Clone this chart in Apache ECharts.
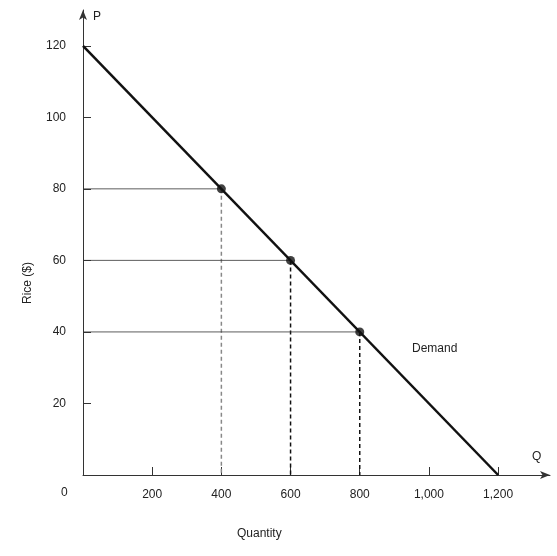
<!DOCTYPE html>
<html><head><meta charset="utf-8">
<script src="https://cdn.jsdelivr.net/npm/echarts@6/dist/echarts.min.js"></script>
<style>html,body{margin:0;background:#fff}#c{width:557px;height:556px}</style>
</head><body><div id="c"></div>
<script>
var demandLine = [[0, 120], [1200, 0]];
var points = [[400, 80], [600, 60], [800, 40]];
var dashColors = ['#888', '#111', '#111'];
var xTicks = [200, 400, 600, 800, 1000, 1200];
var yTicks = [20, 40, 60, 80, 100, 120];

var font = 'Liberation Sans, Arial, sans-serif';
var series = [];
points.forEach(function (p, i) {
    series.push({type: 'line', data: [[0, p[1]], p], symbol: 'none', silent: true,
        lineStyle: {color: '#333', width: 0.8}});
    series.push({type: 'line', data: [p, [p[0], 0]], symbol: 'none', silent: true,
        lineStyle: {color: dashColors[i], width: 1.5, type: [4, 3]}});
});
series.push({type: 'line', data: demandLine, symbol: 'none', lineStyle: {color: '#111', width: 2.5}, z: 5});
series.push({type: 'scatter', data: points, symbolSize: 9, itemStyle: {color: '#111'}, z: 6});

var chart = echarts.init(document.getElementById('c'));
chart.setOption({
    animation: false,
    grid: {left: 83, right: 7, top: 10, bottom: 81},
    xAxis: {type: 'value', min: 0, max: 1350, interval: 200,
        axisLine: {lineStyle: {color: '#333'}, symbol: ['none', 'arrow'], symbolSize: [6, 10]},
        axisTick: {inside: true, length: 8, lineStyle: {color: '#333'}, customValues: xTicks},
        axisLabel: {margin: 14, color: '#222', fontFamily: font, fontSize: 12, customValues: xTicks,
            formatter: function (v) { return v.toLocaleString('en-US'); }},
        splitLine: {show: false}},
    yAxis: {type: 'value', min: 0, max: 130, interval: 20,
        axisLine: {show: true, lineStyle: {color: '#333'}, symbol: ['none', 'arrow'], symbolSize: [6, 10]},
        axisTick: {show: true, inside: true, length: 8, lineStyle: {color: '#333'}, customValues: yTicks},
        axisLabel: {margin: 17, color: '#222', fontFamily: font, fontSize: 12, customValues: yTicks},
        splitLine: {show: false}},
    graphic: [
        {type: 'text', left: 61, top: 487, style: {text: '0', font: '12px ' + font, fill: '#222'}},
        {type: 'text', left: 93, top: 11, style: {text: 'P', font: '12px ' + font, fill: '#222'}},
        {type: 'text', left: 532, top: 451, style: {text: 'Q', font: '12px ' + font, fill: '#222'}},
        {type: 'text', left: 412, top: 343, style: {text: 'Demand', font: '12px ' + font, fill: '#222'}},
        {type: 'text', left: 237, top: 528, style: {text: 'Quantity', font: '12px ' + font, fill: '#222'}},
        {type: 'text', x: 28, y: 283, rotation: Math.PI / 2, style: {text: 'Rice ($)', font: '12px ' + font, fill: '#222', align: 'center', verticalAlign: 'middle'}}
    ],
    series: series
});
</script></body></html>
